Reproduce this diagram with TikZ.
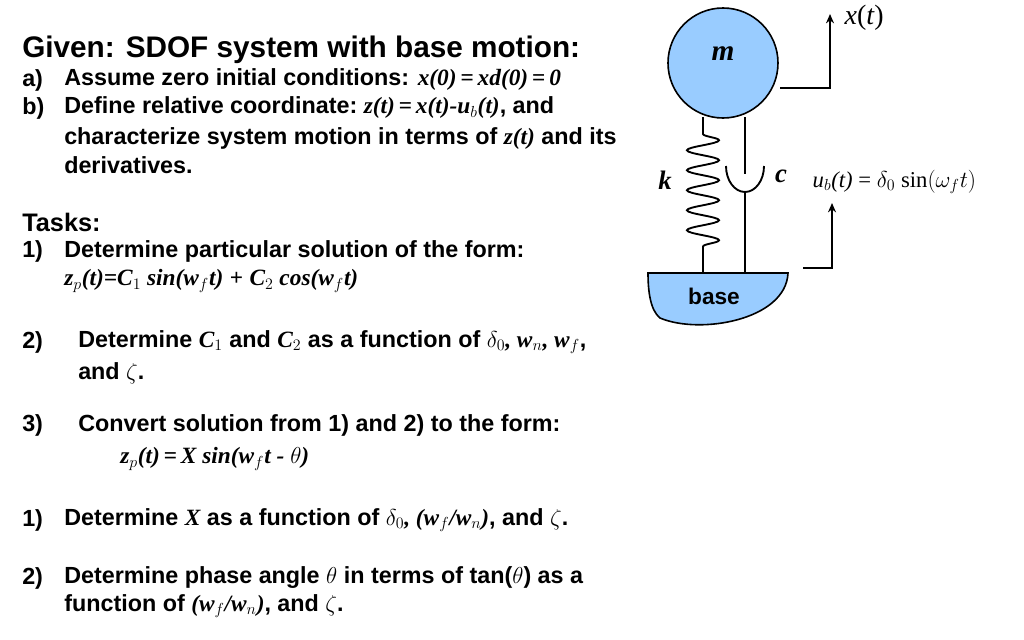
\documentclass[tikz,border=0pt]{standalone}
\usepackage{fontspec}
\setmainfont{Liberation Sans}
\newfontfamily\mserif{Liberation Serif}
\usetikzlibrary{decorations.pathmorphing,arrows.meta}
\definecolor{lblue}{HTML}{99CCFF}
\newcommand{\mi}[1]{{\mserif\itshape\bfseries #1}}
\newcommand{\mr}[1]{{\mserif #1}}
\newcommand{\eqs}{\,\mr{=}\,}
\tikzset{
 txt/.style={anchor=west,inner sep=0pt,font=\fontsize{17.5}{20}\selectfont\bfseries},
 ttl/.style={anchor=west,inner sep=0pt,font=\fontsize{22.3}{24}\selectfont\bfseries},
 ln/.style={line width=1.4pt},
 arr/.style={line width=1.4pt,-{Stealth[length=7pt,width=6pt]}}
}
\begin{document}
\begin{tikzpicture}[x=0.75pt,y=-0.75pt]
\useasboundingbox (0,0) rectangle (1024,639);
\node[ttl] (title) at (22,50) {Given: SDOF system with base motion:};
\node[txt] (la) at (22,80) {a)};
\node[txt] (ta) at (64,80) {Assume zero initial conditions: \mi{x(0)}\eqs\mi{xd(0)}\eqs\mr{\itshape 0}};
\node[txt] (lb) at (22,108) {b)};
\node[txt] (tb) at (64,108) {Define relative coordinate:\ \mi{z(t)}\eqs\mi{x(t)-u$_b$(t)}, and};
\node[txt] (tb2) at (64,139) {characterize system motion in terms of \mi{z(t)} and its};
\node[txt] (tb3) at (64,165) {derivatives.};
\node[txt,font=\fontsize{19}{20}\selectfont\bfseries] (tasks) at (22,222) {Tasks:};
\node[txt] (l1) at (22,251) {1)};
\node[txt] (t1) at (64,251) {Determine particular solution of the form:};
\node[txt] (f1) at (64,281) {\mi{z$_p$(t)=C$_1$ sin(w$_f$t)} \mr{+} \mi{C$_2$ cos(w$_f$t)}};
\node[txt] (l2) at (22,342) {2)};
\node[txt] (t2) at (78,342) {Determine \mi{C$_1$} and \mi{C$_2$} as a function of \mi{$\delta_0$, w$_n$, w$_f$},};
\node[txt] (t2b) at (78,373) {and \mi{$\zeta$}.};
\node[txt] (l3) at (22,425) {3)};
\node[txt] (t3) at (78,425) {Convert solution from 1) and 2) to the form:};
\node[txt] (f3) at (120,459) {\mi{z$_p$(t)}\eqs\mi{X sin(w$_f$t - $\theta$)}};
\node[txt] (l4) at (22,520) {1)};
\node[txt] (t4) at (64,520) {Determine \mi{X} as a function of \mi{$\delta_0$, (w$_f$/w$_n$)}, and \mi{$\zeta$}.};
\node[txt] (l5) at (22,578) {2)};
\node[txt] (t5) at (64,578) {Determine phase angle \mi{$\theta$} in terms of tan(\mi{$\theta$}) as a};
\node[txt] (t5b) at (64,606) {function of \mi{(w$_f$/w$_n$)}, and \mi{$\zeta$}.};
% diagram
\node[circle,draw,line width=1.2pt,fill=lblue,minimum size=82.5pt,inner sep=0pt] (m) at (723,63) {};
\node[font=\fontsize{22}{22}\selectfont\mserif\bfseries\itshape] (mlab) at (723,54) {m};
\draw[line width=1.2pt,fill=lblue] (648,273) -- (788,273) .. controls (786,320) and (700,335) .. (660,318) .. controls (650,310) and (648,290) .. (648,273) -- cycle;
\node[font=\fontsize{17}{17}\selectfont\bfseries] (base) at (714,296) {base};
\coordinate (s1) at (703,117); \coordinate (s2) at (703,273);
\draw[ln] (s1) -- (703,134) decorate[decoration={snake,segment length=15pt,amplitude=12pt}]{-- (703,255)} -- (s2);
\draw[ln] (745,117) -- (745,174);
\draw[ln] (726,166) arc[start angle=180,end angle=0,x radius=19,y radius=26];
\draw[ln] (745,192) -- (745,273);
\node[font=\fontsize{20}{20}\selectfont\mserif\bfseries\itshape] (k) at (665,180) {k};
\node[font=\fontsize{20}{20}\selectfont\mserif\bfseries\itshape] (c) at (781,176) {c};
\coordinate (xa) at (780,88);
\draw[arr] (xa) -- (830,88) -- (830,14);
\node[anchor=west,font=\fontsize{21}{21}\selectfont\mserif] (xt) at (840,18) {\itshape x\upshape(\itshape t\upshape)};
\coordinate (ua) at (803,268);
\draw[arr] (ua) -- (832,268) -- (832,203);
\node[anchor=west,font=\fontsize{17}{17}\selectfont\mserif] (ub) at (808,182) {\itshape u$_b$(t)\upshape{} = $\delta_0$ sin$\bigl(\omega_f t\bigr)$};
\end{tikzpicture}
\end{document}
